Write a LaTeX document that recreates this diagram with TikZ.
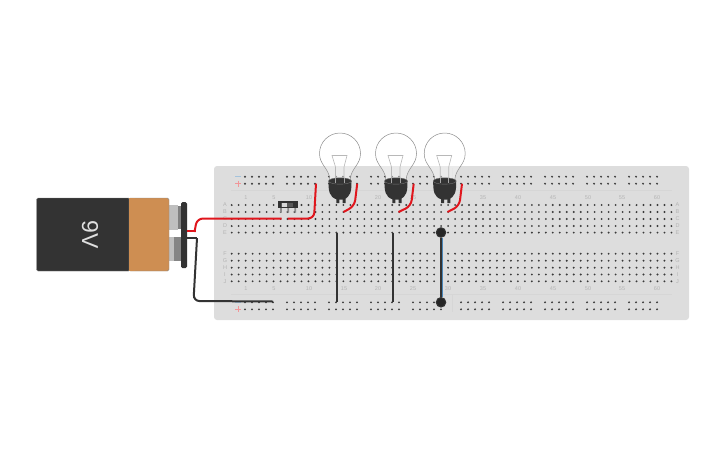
\documentclass[tikz,border=0pt]{standalone}
\usepackage{fontspec}
\setmainfont{Liberation Sans}
\definecolor{board}{HTML}{DDDDDD}
\definecolor{dark}{HTML}{333333}
\definecolor{copper}{HTML}{CE8E52}
\definecolor{wred}{HTML}{E0161D}
\definecolor{wblue}{HTML}{4A86B8}
\definecolor{lbl}{HTML}{B4B4B4}
\definecolor{hole}{HTML}{3A3A3A}
\tikzset{
  boardbox/.style={fill=board,rounded corners=3pt},
  holedot/.style={fill=hole},
  wirered/.style={draw=wred,line width=2pt,rounded corners=6pt},
  wireblack/.style={draw=dark,line width=2pt,rounded corners=6pt},
  lab/.style={text=lbl,font=\fontsize{5.5}{5.5}\selectfont,inner sep=0pt},
  glass/.style={draw=black!45,line width=0.5pt,fill=white,fill opacity=0.4},
  filament/.style={draw=black!28,line width=0.6pt},
  endball/.style={circle,fill=black!85,draw=dark,line width=1pt,minimum size=9.5pt,inner sep=0pt},
}
\begin{document}
\begin{tikzpicture}[x=1pt,y=-1pt]
\useasboundingbox (0,0) rectangle (725,453);
% board
\path[boardbox] (214,166) rectangle (689,320);
\draw[black!16,line width=0.5pt] (231,190) -- (672,190) (231,294) -- (672,294);
\draw[black!16,line width=0.5pt] (452,168) -- (452,190) (452,294) -- (452,312);
% rail marks
\draw[wblue!50,line width=1.2pt] (235,176.7) -- (241,176.7);
\draw[wblue!50,line width=1.2pt] (235,302.3) -- (241,302.3);
\draw[wred!45,line width=0.8pt] (235,183.7) -- (241,183.7) (238,180.7) -- (238,186.7);
\draw[wred!45,line width=0.8pt] (235,309.3) -- (241,309.3) (238,306.3) -- (238,312.3);
% holes in the main rows
\foreach \yy in {205,212,219,226,232.6,253.7,260.7,267.7,274.5,281.3}
  \foreach \c in {0,...,63}
    \fill[holedot] ({231.7+6.98*\c},\yy) circle (1.05pt);
% rail holes
\foreach \gx in {245,287,329,371,413,461,503,545,587,629}
  \foreach \c in {0,...,4}
    \foreach \yy in {176.7,183.7,302.3,309.3}
      \fill[holedot] ({\gx+7*\c},\yy) circle (1.05pt);
% column numbers
\foreach \n/\xx in {1/246,5/274,10/309,15/344,20/378,25/413,30/448,35/483,40/518,45/553,50/588,55/622,60/657}{
  \node[lab] (top\n) at (\xx,198) {\n};
  \node[lab] (bot\n) at (\xx,289) {\n};
}
% row letters
\foreach \l/\yy in {A/205,B/212,C/219,D/226,E/232.6,F/253.7,G/260.7,H/267.7,I/274.5,J/281.3}{
  \node[lab] (ll\l) at (225,\yy) {\l};
  \node[lab] (lr\l) at (677.5,\yy) {\l};
}
% battery
\fill[black!25] (169,205) rectangle (178,230);
\fill[black!50] (178,206) rectangle (181,229);
\fill[black!25] (169,237) rectangle (173.5,261);
\fill[black!48] (173.5,237) rectangle (181,261);
\path[fill=dark,draw=black!50,line width=0.4pt,rounded corners=1.5pt] (36.5,198) rectangle (130,271);
\path[fill=copper,draw=black!45,line width=0.4pt,rounded corners=1.5pt] (129,198) rectangle (169,271);
\fill[copper] (129,198.3) rectangle (135,270.7);
\node[rotate=-90,text=black!12,font=\fontsize{23}{23}\selectfont,inner sep=0pt] (volt) at (90,234.5) {9V};
\path[fill=dark,rounded corners=1.5pt] (181,202) rectangle (187,268);
% wires
\coordinate (rA) at (187,231);
\coordinate (rB) at (196,231);
\coordinate (rD) at (281.5,218.5);
\draw[wred,line width=2.8pt] (rA) -- (rB);
\draw[wirered] (194.5,232) -- (197,218.5) -- (rD);
\coordinate (sA) at (287.5,218.5);
\coordinate (sB) at (314,218.5);
\coordinate (sC) at (316,183.7);
\draw[wirered] (sA) -- (sB) -- (sC);
\coordinate (kA) at (187,238);
\coordinate (kB) at (197,238);
\coordinate (kC) at (193.5,301);
\coordinate (kD) at (273,301.5);
\draw[dark,line width=2.8pt] (kA) -- (kB);
\draw[wireblack] (kB) -- (kC) -- (kD);
\coordinate (v1a) at (336.7,232.5);
\coordinate (v1b) at (336.7,302.3);
\coordinate (v2a) at (392.5,232.5);
\coordinate (v2b) at (392.5,302.3);
\draw[dark,line width=2pt] (v1a) -- (v1b);
\draw[dark,line width=2pt] (v2a) -- (v2b);
% blue wire
\node[endball] (ba) at (441,232.5) {};
\node[endball] (bb) at (441,302.3) {};
\draw[wblue,line width=3pt] (ba) -- (bb);
\draw[dark,line width=1.3pt] (ba) -- (bb);
% switch
\fill[black!45] (280,208) rectangle (281.8,212.5) (287.3,208) rectangle (289.1,212.5) (294.3,208) rectangle (296.1,212.5);
\fill[dark] (278,201) rectangle (298,208.3);
\fill[black!65] (281,202.8) rectangle (293,206.6);
\fill[black!15] (281.5,202.8) rectangle (286.5,206.6);
% bulbs
\foreach \cx/\nm in {340/a,396/b,444.7/c}{
  \begin{scope}[shift={(\cx,0)}]
    \path[glass] (-10,180) .. controls (-11,168) and (-20.5,165) .. (-20.5,153.5)
       arc[start angle=180,end angle=360,radius=20.5]
       .. controls (20.5,165) and (11,168) .. (10,180) -- cycle;
    \draw[filament] (-4.5,179) -- (-4.5,167) -- (-8,155.5) -- (7,155.5) -- (4,167) -- (4,179);
    \fill[dark] (-3.6,195) rectangle (-0.6,203) (2.6,195) rectangle (5.6,203);
    \path[fill=dark] (-11.5,181) -- (11.5,181) .. controls (11.5,191) and (11,197) .. (3,199.5) -- (-3,199.5) .. controls (-11,197) and (-11.5,191) .. (-11.5,181) -- cycle;
    \path[fill=dark,draw=black!55,line width=0.4pt] (0,181) ellipse[x radius=11.5,y radius=3.2];
    \draw[filament,draw=black!35] (-4.5,178) -- (-4.5,183) (4,178) -- (4,183);
  \end{scope}
}
% bulb wires
\coordinate (ra1) at (357.2,183.7);
\coordinate (ra2) at (354.5,206);
\coordinate (ra3) at (343.5,212);
\coordinate (rb1) at (413.7,183.7);
\coordinate (rb2) at (411,206);
\coordinate (rb3) at (398.5,212);
\coordinate (rc1) at (462,183.7);
\coordinate (rc2) at (459.3,206);
\coordinate (rc3) at (447.5,212);
\draw[wirered] (ra1) -- (ra2) -- (ra3);
\draw[wirered] (rb1) -- (rb2) -- (rb3);
\draw[wirered] (rc1) -- (rc2) -- (rc3);
\end{tikzpicture}
\end{document}
